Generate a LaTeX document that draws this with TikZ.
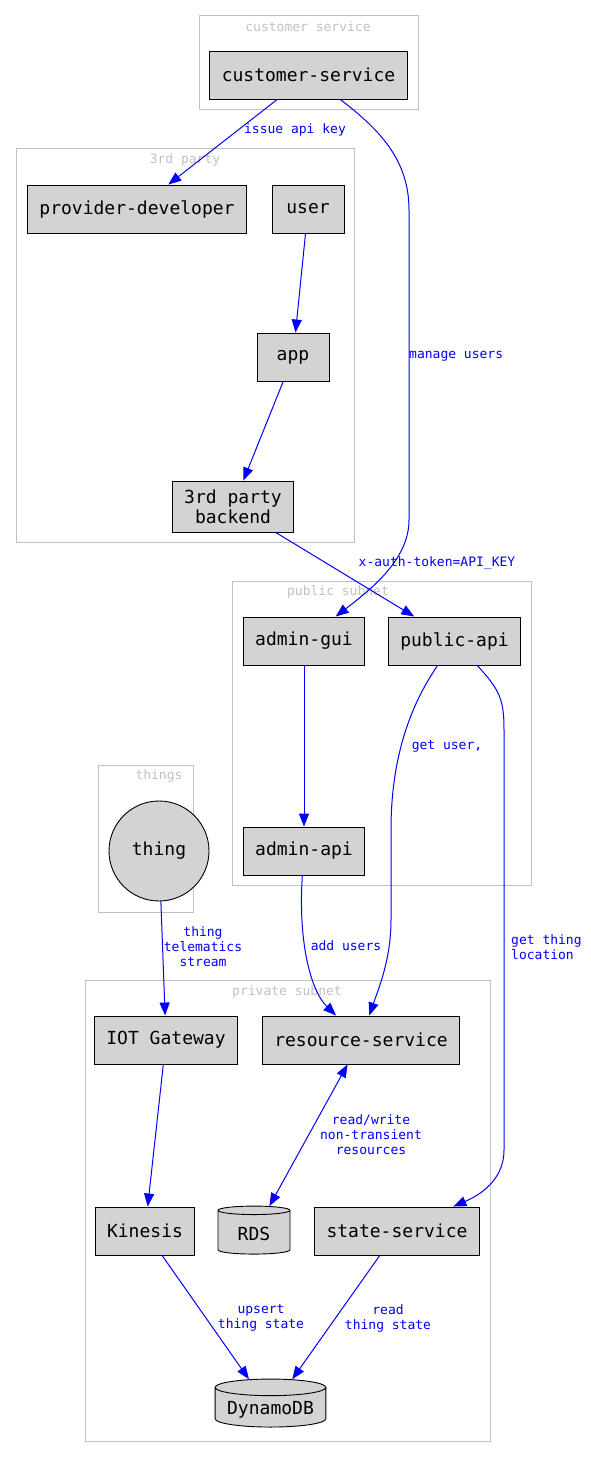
\documentclass[tikz,border=0pt]{standalone}
\usepackage{fontspec}
\setmainfont{DejaVu Sans Mono}
\usetikzlibrary{arrows.meta,shapes.geometric}
\definecolor{nodegray}{HTML}{D3D3D3}
\definecolor{clustergray}{HTML}{C0C0C0}
\tikzset{
    svc/.style={draw, fill=nodegray, line width=0.9pt, minimum width=72pt, minimum height=48pt,
        inner xsep=12pt, align=center, font=\fontsize{18}{20}\selectfont},
    db/.style={svc, cylinder, shape border rotate=90, aspect=0.15},
    cluster/.style={draw=clustergray, line width=1pt},
    clabel/.style={text=clustergray, font=\fontsize{13}{15}\selectfont},
    lbl/.style={text=blue, align=center, inner sep=0pt, font=\fontsize{13}{15}\selectfont},
    edge/.style={draw=blue, line width=1pt, -{Triangle[length=13pt,width=10pt]}}
}
\begin{document}
\begin{tikzpicture}[x=1pt, y={(0pt,-1pt)}]
    \useasboundingbox (0,0) rectangle (591,1458);

    \draw[cluster] (199,16) rectangle (418,110);
    \node[clabel] (ccs) at (308,27) {customer service};
    \draw[cluster] (16,149) rectangle (354,542);
    \node[clabel] (c3p) at (185,160) {3rd party};
    \draw[cluster] (232,581) rectangle (531,885);
    \node[clabel] (cpub) at (338,592) {public subnet};
    \draw[cluster] (98,765) rectangle (193,912);
    \node[clabel] (cthings) at (159,776) {things};
    \draw[cluster] (85,980) rectangle (490,1441);
    \node[clabel] (cpriv) at (287,992) {private subnet};

    \node[svc] (cs) at (308.5,75) {customer-service};
    \node[svc] (pd) at (137,209) {provider-developer};
    \node[svc] (user) at (308,209) {user};
    \node[svc] (app) at (293,357) {app};
    \node[svc, minimum height=51pt] (tpb) at (233,506.5) {3rd party\\backend};
    \node[svc] (agui) at (304,641) {admin-gui};
    \node[svc] (papi) at (454.5,641) {public-api};
    \node[svc] (aapi) at (304,851) {admin-api};
    \node[svc, circle, minimum size=100pt, inner sep=0pt] (thing) at (159,851) {thing};
    \node[svc] (iot) at (166,1040) {IOT Gateway};
    \node[svc] (rs) at (361,1040) {resource-service};
    \node[svc] (kin) at (145,1231) {Kinesis};
    \node[db] (rds) at (254,1234) {RDS};
    \node[svc] (ss) at (397,1231) {state-service};
    \node[db] (ddb) at (270.5,1410) {DynamoDB};

    \draw[edge] (cs) -- (pd);
    \draw[edge] (cs) .. controls (380,130) and (409,160) .. (409,210) -- (409,520)
        .. controls (409,560) and (370,590) .. (agui);
    \draw[edge] (user) -- (app);
    \draw[edge] (app) -- (tpb);
    \draw[edge] (tpb) -- (papi);
    \draw[edge] (agui) -- (aapi);
    \draw[edge] (papi) .. controls (400,720) and (391,780) .. (391,830) -- (391,920)
        .. controls (391,960) and (378,990) .. (rs);
    \draw[edge] (aapi) .. controls (298,940) and (310,990) .. (rs);
    \draw[edge] (papi) .. controls (500,690) and (504,700) .. (504,730) -- (504,1150)
        .. controls (504,1180) and (480,1195) .. (ss);
    \draw[edge] (thing) -- (iot);
    \draw[edge] (iot) -- (kin);
    \draw[edge, {Triangle[length=13pt,width=10pt]}-{Triangle[length=13pt,width=10pt]}] (rs) -- (rds);
    \draw[edge] (kin) -- (ddb);
    \draw[edge] (ss) -- (ddb);

    \node[lbl] (l1) at (295,130) {issue api key};
    \node[lbl, anchor=west] (l2) at (409,356) {manage users};
    \node[lbl] (l3) at (437,563) {x-auth-token=API\_KEY};
    \node[lbl] (l4) at (447,746) {get user,};
    \node[lbl] (l5) at (346,946) {add users};
    \node[lbl, anchor=west, align=left] (l6) at (511,947) {get thing\\location};
    \node[lbl] (l7) at (203,947) {thing\\telematics\\stream};
    \node[lbl] (l8) at (371,1135) {read/write\\non-transient\\resources};
    \node[lbl] (l9) at (261,1318) {upsert\\thing state};
    \node[lbl] (l10) at (388,1318) {read\\thing state};
\end{tikzpicture}
\end{document}
